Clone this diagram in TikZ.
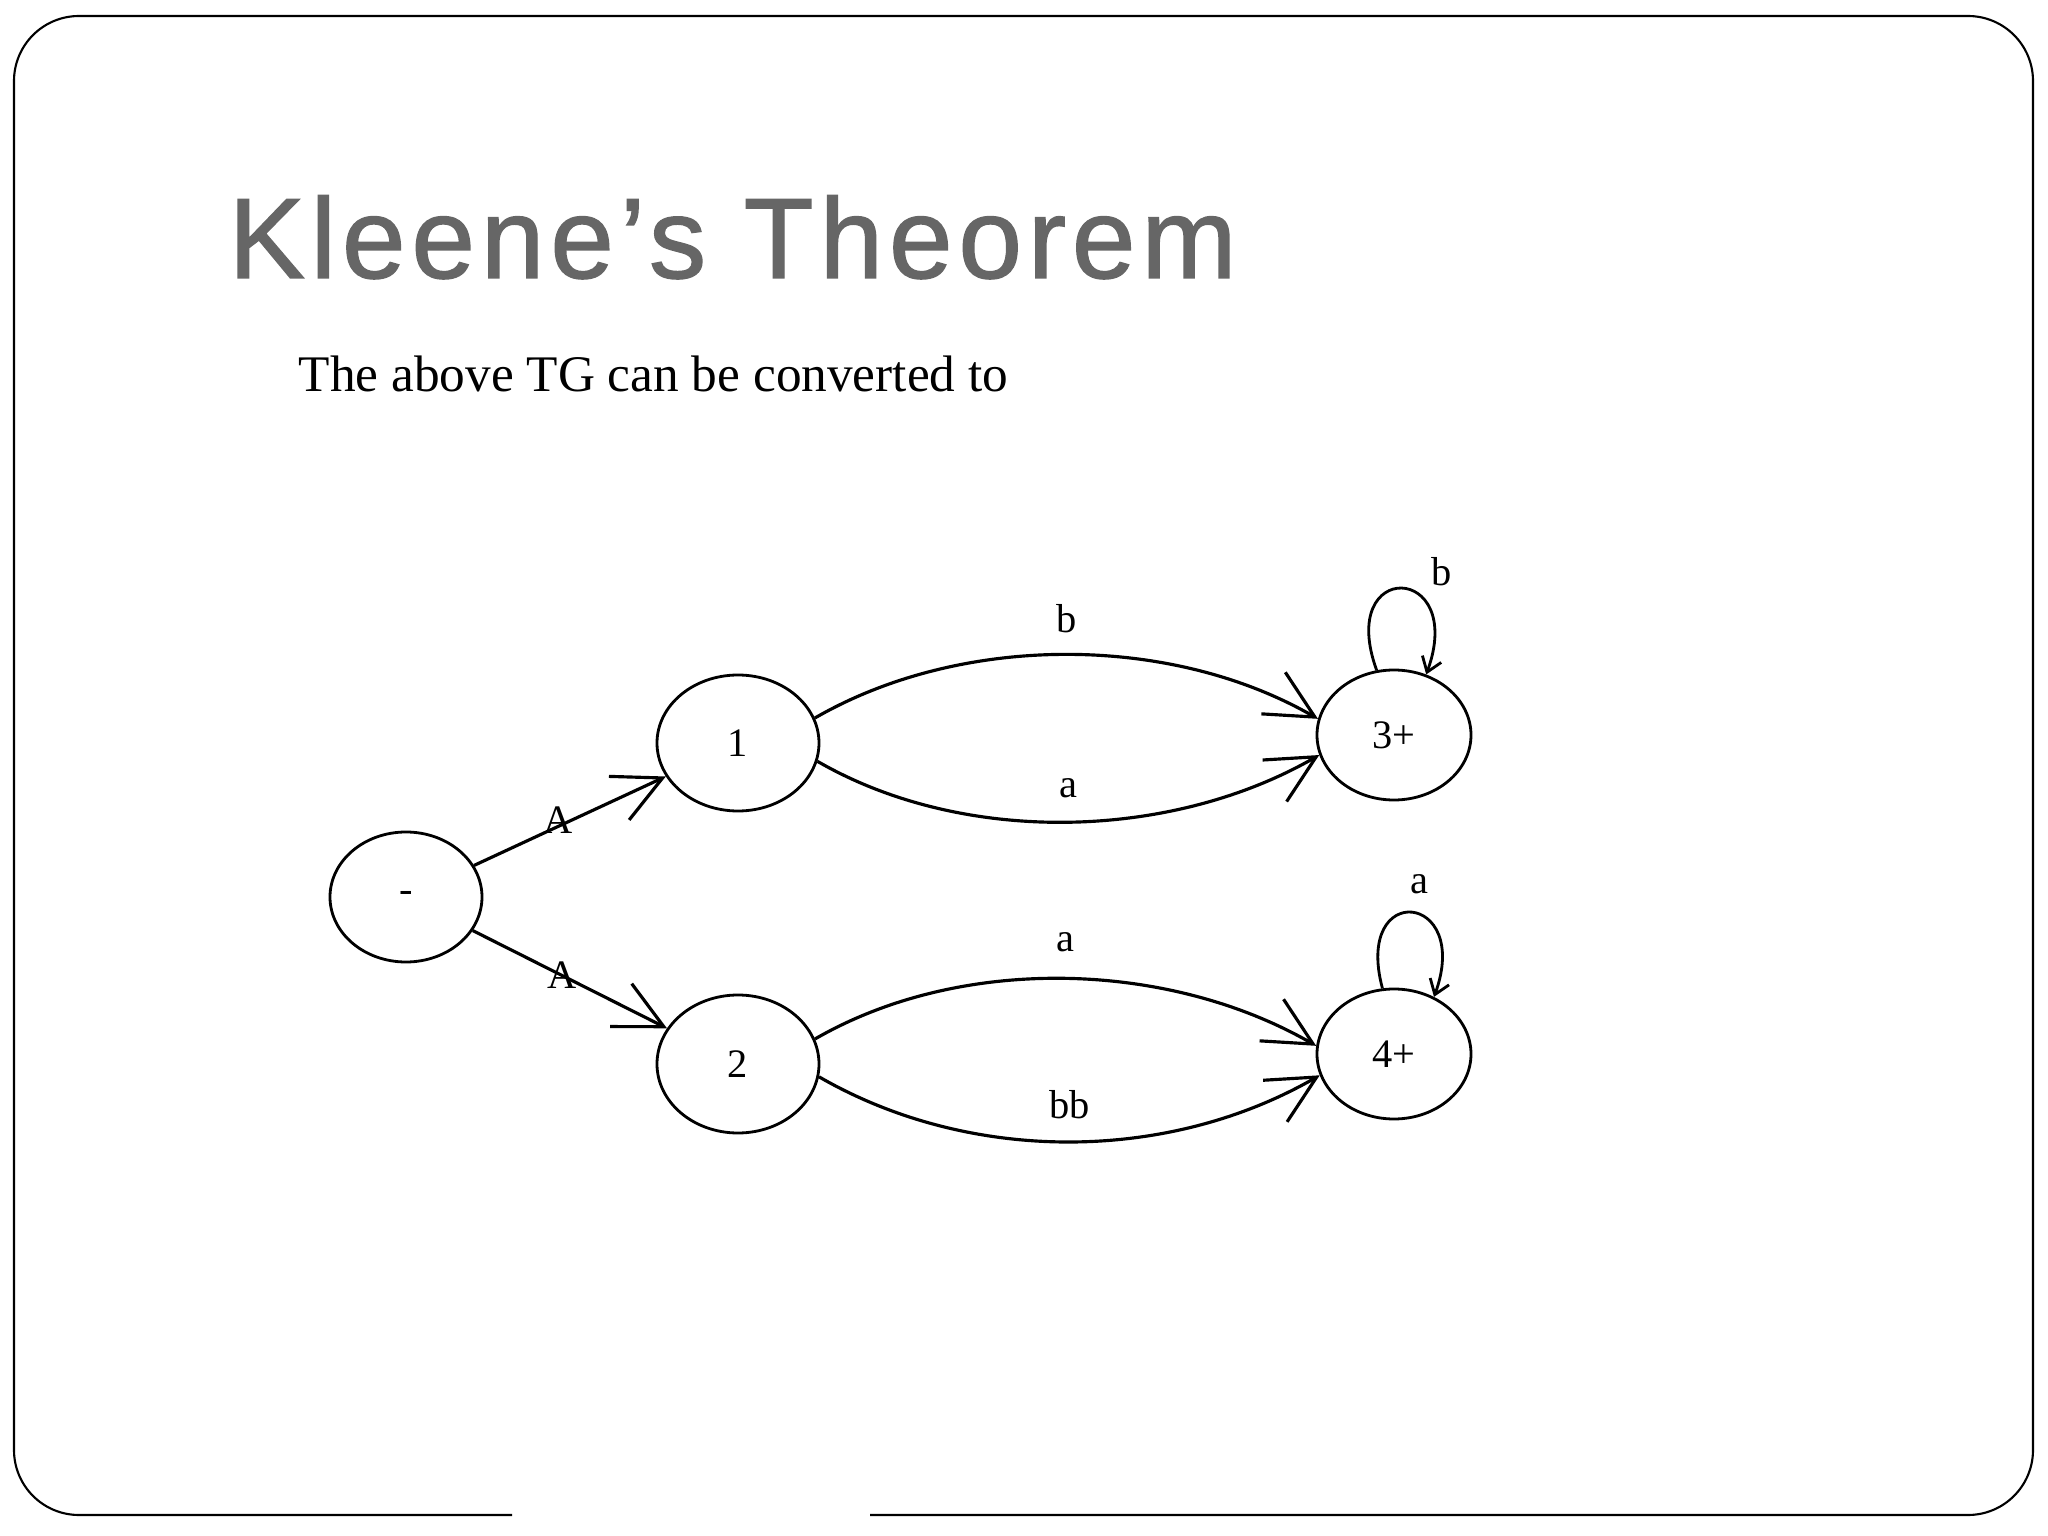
\documentclass[tikz,border=0pt]{standalone}
\usepackage{fontspec}
\setmainfont{Liberation Serif}
\newfontfamily\titlefont[LetterSpace=5.2,FakeBold=1.2]{Liberation Sans}
\usetikzlibrary{shapes.geometric,arrows.meta}
\definecolor{titlegray}{HTML}{666666}

\begin{document}
\begin{tikzpicture}[x=1cm,y=1cm,
  state/.style={draw,ellipse,line width=0.8pt,inner sep=0pt,minimum width=1.54cm,minimum height=1.30cm,font=\fontsize{11.5}{13}\selectfont},
  trans/.style={line width=0.9pt,-{Straight Barb[length=0.48cm,width=0.48cm,line width=0.9pt]}},
  selfloop/.style={line width=0.8pt,-{Straight Barb[length=0.14cm,width=0.2cm,line width=0.8pt]}},
  lbl/.style={font=\fontsize{11.5}{13}\selectfont,inner sep=2pt}]
\useasboundingbox (0,0) rectangle (20.48,-15.36);
% slide frame, open at the bottom
\draw[line width=0.6pt,rounded corners=0.65cm] (8.70,-15.15) -- (20.33,-15.15) -- (20.33,-0.16) -- (0.14,-0.16) -- (0.14,-15.15) -- (5.12,-15.15);

\node[anchor=base west,inner sep=0pt,text=titlegray,font=\titlefont\fontsize{32.5}{36}\selectfont] (title) at (2.28,-2.78) {Kleene’s Theorem};
\node[anchor=base west,inner sep=0pt,font=\fontsize{14.6}{17}\selectfont] (sub) at (2.98,-3.92) {The above TG can be converted to};

% states
\node[state,minimum width=1.52cm] (start) at (4.06,-8.97) {-};
\node[state,minimum width=1.62cm,minimum height=1.36cm] (q1) at (7.38,-7.43) {1};
\node[state,minimum width=1.62cm,minimum height=1.38cm] (q2) at (7.38,-10.64) {2};
\node[state] (q3) at (13.94,-7.35) {3+};
\node[state] (q4) at (13.94,-10.54) {4+};

% transitions
\draw[trans] (start) -- node[lbl,pos=0.44,yshift=0.06cm] {A} (q1);
\draw[trans] (start) -- node[lbl,pos=0.46] {A} (q2);
\draw[trans] (q1.18) to[out=30,in=150,out distance=1.7cm,in distance=1.7cm] node[lbl,above=0.13cm] {b} (q3.168);
\draw[trans] (q1.-13) to[out=-30,in=-150,out distance=1.7cm,in distance=1.7cm] node[lbl,above=0.15cm] {a} (q3.195);
\draw[trans] (q2.18) to[out=30,in=150,out distance=1.7cm,in distance=1.7cm] node[lbl,above=0.18cm] {a} (q4.174);
\draw[trans] (q2.-9) to[out=-30,in=-150,out distance=1.75cm,in distance=1.75cm] node[lbl,above=0.14cm] {bb} (q4.196);
\draw[selfloop] (q3.105) to[out=110,in=70,out distance=1.19cm,in distance=1.19cm] node[lbl,pos=0.5,xshift=0.4cm,yshift=0.17cm] {b} (q3.62);
\draw[selfloop] (q4.100) to[out=105,in=70,out distance=1.12cm,in distance=1.12cm] node[lbl,pos=0.5,above=0.1cm,xshift=0.08cm] {a} (q4.55);
\end{tikzpicture}
\end{document}
